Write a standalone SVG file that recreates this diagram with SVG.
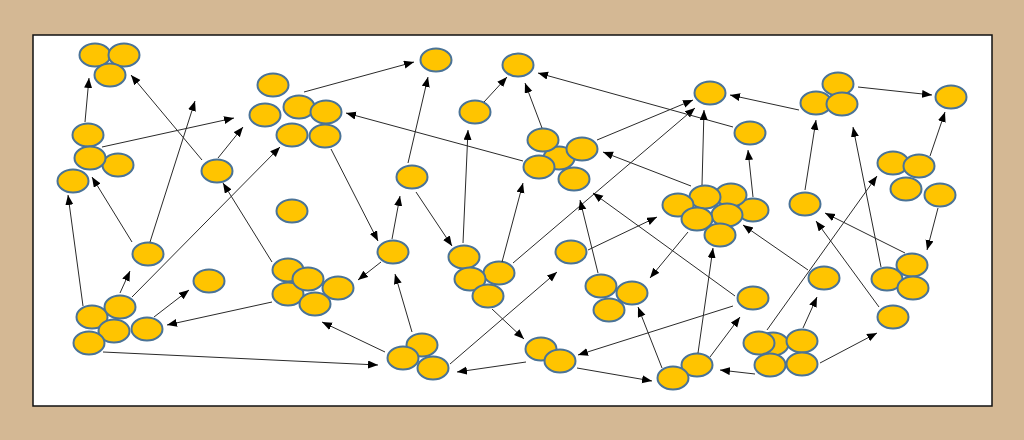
<svg xmlns="http://www.w3.org/2000/svg" width="1024" height="440" viewBox="0 0 1024 440">
<style>
.n ellipse{fill:#FFC400;stroke:#4A7397;stroke-width:2}
.c line{stroke:#2a2a2a;stroke-width:1;marker-end:url(#ah)}
</style>
<defs>
<marker id="ah" markerUnits="userSpaceOnUse" markerWidth="11" markerHeight="9" refX="10" refY="4" orient="auto">
<path d="M0,0 L10,4 L0,8 z" fill="#000"/>
</marker>
</defs>
<rect x="0" y="0" width="1024" height="440" fill="#D4B894"/>
<rect x="33" y="35" width="959" height="371" fill="#fff" stroke="#111" stroke-width="1.5"/>
<g id="nodes">
<g id="n1" class="n"><ellipse cx="95" cy="55" rx="15.5" ry="11.5"/><ellipse cx="124" cy="55" rx="15.5" ry="11.5"/><ellipse cx="110" cy="75" rx="15.5" ry="11.5"/></g>
<g id="n2" class="n"><ellipse cx="88" cy="135" rx="15.5" ry="11.5"/><ellipse cx="118" cy="165" rx="15.5" ry="11.5"/><ellipse cx="90" cy="158" rx="15.5" ry="11.5"/><ellipse cx="73" cy="181" rx="15.5" ry="11.5"/></g>
<g id="n3" class="n"><ellipse cx="217" cy="171" rx="15.5" ry="11.5"/></g>
<g id="n4" class="n"><ellipse cx="273" cy="85" rx="15.5" ry="11.5"/><ellipse cx="265" cy="115" rx="15.5" ry="11.5"/><ellipse cx="299" cy="107" rx="15.5" ry="11.5"/><ellipse cx="326" cy="112" rx="15.5" ry="11.5"/><ellipse cx="292" cy="135" rx="15.5" ry="11.5"/><ellipse cx="325" cy="136" rx="15.5" ry="11.5"/></g>
<g id="n5" class="n"><ellipse cx="292" cy="211" rx="15.5" ry="11.5"/></g>
<g id="n6" class="n"><ellipse cx="436" cy="60" rx="15.5" ry="11.5"/></g>
<g id="n7" class="n"><ellipse cx="518" cy="65" rx="15.5" ry="11.5"/></g>
<g id="n8" class="n"><ellipse cx="475" cy="112" rx="15.5" ry="11.5"/></g>
<g id="n9" class="n"><ellipse cx="559" cy="158" rx="15.5" ry="11.5"/><ellipse cx="543" cy="140" rx="15.5" ry="11.5"/><ellipse cx="582" cy="149" rx="15.5" ry="11.5"/><ellipse cx="539" cy="167" rx="15.5" ry="11.5"/><ellipse cx="574" cy="179" rx="15.5" ry="11.5"/></g>
<g id="n10" class="n"><ellipse cx="412" cy="177" rx="15.5" ry="11.5"/></g>
<g id="n11" class="n"><ellipse cx="710" cy="93" rx="15.5" ry="11.5"/></g>
<g id="n12" class="n"><ellipse cx="750" cy="133" rx="15.5" ry="11.5"/></g>
<g id="n13" class="n"><ellipse cx="838" cy="84" rx="15.5" ry="11.5"/><ellipse cx="816" cy="103" rx="15.5" ry="11.5"/><ellipse cx="842" cy="104" rx="15.5" ry="11.5"/></g>
<g id="n14" class="n"><ellipse cx="951" cy="97" rx="15.5" ry="11.5"/></g>
<g id="n15" class="n"><ellipse cx="893" cy="163" rx="15.5" ry="11.5"/><ellipse cx="919" cy="166" rx="15.5" ry="11.5"/><ellipse cx="906" cy="189" rx="15.5" ry="11.5"/></g>
<g id="n16" class="n"><ellipse cx="940" cy="195" rx="15.5" ry="11.5"/></g>
<g id="n17" class="n"><ellipse cx="805" cy="204" rx="15.5" ry="11.5"/></g>
<g id="n18" class="n"><ellipse cx="753" cy="210" rx="15.5" ry="11.5"/><ellipse cx="731" cy="195" rx="15.5" ry="11.5"/><ellipse cx="705" cy="197" rx="15.5" ry="11.5"/><ellipse cx="678" cy="205" rx="15.5" ry="11.5"/><ellipse cx="727" cy="215" rx="15.5" ry="11.5"/><ellipse cx="697" cy="219" rx="15.5" ry="11.5"/><ellipse cx="720" cy="235" rx="15.5" ry="11.5"/></g>
<g id="n19" class="n"><ellipse cx="148" cy="254" rx="15.5" ry="11.5"/></g>
<g id="n20" class="n"><ellipse cx="209" cy="281" rx="15.5" ry="11.5"/></g>
<g id="n21" class="n"><ellipse cx="92" cy="317" rx="15.5" ry="11.5"/><ellipse cx="120" cy="307" rx="15.5" ry="11.5"/><ellipse cx="114" cy="331" rx="15.5" ry="11.5"/><ellipse cx="89" cy="343" rx="15.5" ry="11.5"/><ellipse cx="147" cy="329" rx="15.5" ry="11.5"/></g>
<g id="n22" class="n"><ellipse cx="288" cy="270" rx="15.5" ry="11.5"/><ellipse cx="338" cy="288" rx="15.5" ry="11.5"/><ellipse cx="288" cy="294" rx="15.5" ry="11.5"/><ellipse cx="308" cy="279" rx="15.5" ry="11.5"/><ellipse cx="315" cy="304" rx="15.5" ry="11.5"/></g>
<g id="n23" class="n"><ellipse cx="393" cy="252" rx="15.5" ry="11.5"/></g>
<g id="n24" class="n"><ellipse cx="464" cy="257" rx="15.5" ry="11.5"/><ellipse cx="499" cy="273" rx="15.5" ry="11.5"/><ellipse cx="470" cy="279" rx="15.5" ry="11.5"/><ellipse cx="488" cy="296" rx="15.5" ry="11.5"/></g>
<g id="n25" class="n"><ellipse cx="571" cy="252" rx="15.5" ry="11.5"/></g>
<g id="n26" class="n"><ellipse cx="601" cy="286" rx="15.5" ry="11.5"/><ellipse cx="632" cy="293" rx="15.5" ry="11.5"/><ellipse cx="609" cy="310" rx="15.5" ry="11.5"/></g>
<g id="n27" class="n"><ellipse cx="422" cy="345" rx="15.5" ry="11.5"/><ellipse cx="403" cy="358" rx="15.5" ry="11.5"/><ellipse cx="433" cy="368" rx="15.5" ry="11.5"/></g>
<g id="n28" class="n"><ellipse cx="541" cy="349" rx="15.5" ry="11.5"/><ellipse cx="560" cy="361" rx="15.5" ry="11.5"/></g>
<g id="n29" class="n"><ellipse cx="697" cy="365" rx="15.5" ry="11.5"/><ellipse cx="673" cy="378" rx="15.5" ry="11.5"/></g>
<g id="n30" class="n"><ellipse cx="753" cy="298" rx="15.5" ry="11.5"/></g>
<g id="n31" class="n"><ellipse cx="824" cy="278" rx="15.5" ry="11.5"/></g>
<g id="n32" class="n"><ellipse cx="773" cy="344" rx="15.5" ry="11.5"/><ellipse cx="759" cy="343" rx="15.5" ry="11.5"/><ellipse cx="802" cy="341" rx="15.5" ry="11.5"/><ellipse cx="770" cy="365" rx="15.5" ry="11.5"/><ellipse cx="802" cy="364" rx="15.5" ry="11.5"/></g>
<g id="n33" class="n"><ellipse cx="912" cy="265" rx="15.5" ry="11.5"/><ellipse cx="887" cy="279" rx="15.5" ry="11.5"/><ellipse cx="913" cy="288" rx="15.5" ry="11.5"/></g>
<g id="n34" class="n"><ellipse cx="893" cy="317" rx="15.5" ry="11.5"/></g>
</g>
<g id="connectors" class="c">
<line x1="85" y1="122" x2="89" y2="78"/>
<line x1="202" y1="160" x2="131" y2="75"/>
<line x1="150" y1="242" x2="195" y2="101"/>
<line x1="102" y1="147" x2="234" y2="118"/>
<line x1="218" y1="158" x2="243" y2="127"/>
<line x1="132" y1="297" x2="280" y2="147"/>
<line x1="132" y1="242" x2="92" y2="177"/>
<line x1="83" y1="306" x2="68" y2="195"/>
<line x1="304" y1="92" x2="414" y2="62"/>
<line x1="523" y1="161" x2="346" y2="113"/>
<line x1="331" y1="149" x2="378" y2="241"/>
<line x1="272" y1="262" x2="223" y2="183"/>
<line x1="120" y1="293" x2="130" y2="271"/>
<line x1="154" y1="317" x2="189" y2="290"/>
<line x1="272" y1="302" x2="167" y2="325"/>
<line x1="103" y1="352" x2="378" y2="365"/>
<line x1="385" y1="352" x2="322" y2="322"/>
<line x1="381" y1="262" x2="358" y2="280"/>
<line x1="412" y1="332" x2="395" y2="274"/>
<line x1="392" y1="239" x2="400" y2="196"/>
<line x1="408" y1="163" x2="428" y2="77"/>
<line x1="416" y1="192" x2="452" y2="246"/>
<line x1="463" y1="243" x2="468" y2="130"/>
<line x1="502" y1="262" x2="523" y2="183"/>
<line x1="513" y1="263" x2="695" y2="108"/>
<line x1="597" y1="140" x2="693" y2="100"/>
<line x1="733" y1="127" x2="538" y2="73"/>
<line x1="542" y1="128" x2="525" y2="83"/>
<line x1="702" y1="185" x2="704" y2="110"/>
<line x1="691" y1="186" x2="603" y2="152"/>
<line x1="753" y1="197" x2="748" y2="150"/>
<line x1="735" y1="296" x2="593" y2="193"/>
<line x1="598" y1="273" x2="580" y2="200"/>
<line x1="588" y1="250" x2="657" y2="217"/>
<line x1="688" y1="232" x2="650" y2="278"/>
<line x1="698" y1="353" x2="713" y2="248"/>
<line x1="808" y1="270" x2="743" y2="225"/>
<line x1="733" y1="306" x2="578" y2="355"/>
<line x1="710" y1="357" x2="740" y2="317"/>
<line x1="755" y1="374" x2="720" y2="370"/>
<line x1="767" y1="330" x2="877" y2="176"/>
<line x1="803" y1="328" x2="817" y2="297"/>
<line x1="820" y1="363" x2="877" y2="333"/>
<line x1="905" y1="253" x2="825" y2="213"/>
<line x1="879" y1="307" x2="816" y2="221"/>
<line x1="881" y1="267" x2="853" y2="127"/>
<line x1="938" y1="208" x2="927" y2="250"/>
<line x1="805" y1="190" x2="816" y2="120"/>
<line x1="930" y1="156" x2="945" y2="112"/>
<line x1="858" y1="87" x2="932" y2="95"/>
<line x1="799" y1="110" x2="730" y2="95"/>
<line x1="484" y1="102" x2="507" y2="77"/>
<line x1="492" y1="309" x2="524" y2="339"/>
<line x1="450" y1="364" x2="557" y2="272"/>
<line x1="526" y1="362" x2="457" y2="372"/>
<line x1="577" y1="368" x2="652" y2="381"/>
<line x1="662" y1="368" x2="638" y2="307"/>
</g>
</svg>
